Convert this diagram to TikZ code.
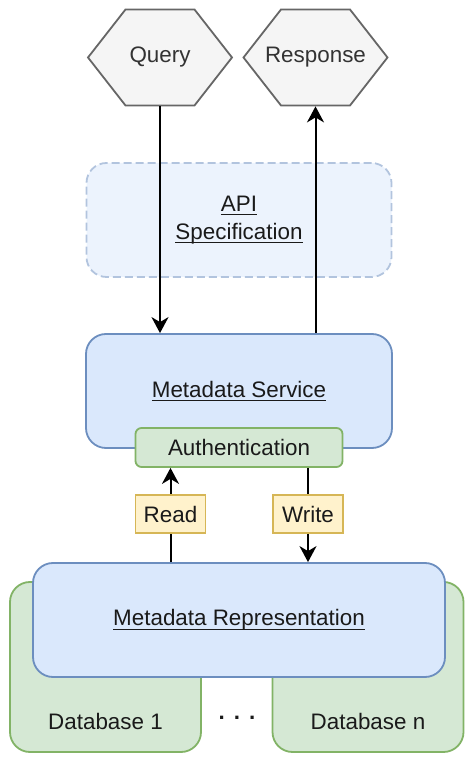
\documentclass[tikz,border=0pt]{standalone}
\usepackage{fontspec}
\setmainfont{Liberation Sans}
\usepackage{xcolor}
\usepackage{tikz}
\usetikzlibrary{positioning, shapes.symbols, arrows.meta}

\newcommand{\udl}[1]{\setbox0\hbox{#1}\rlap{\rule[-2pt]{\wd0}{0.6pt}}\box0}
\newcommand{\hexlbl}[1]{\makebox[20pt]{#1}}

\definecolor{hexfill}{HTML}{F5F5F5}
\definecolor{hexline}{HTML}{666666}
\definecolor{hextext}{HTML}{333333}
\definecolor{bluefill}{HTML}{DAE8FC}
\definecolor{blueline}{HTML}{6C8EBF}
\definecolor{apifill}{HTML}{ECF3FD}
\definecolor{apiline}{HTML}{B2C4DE}
\definecolor{greenfill}{HTML}{D5E8D4}
\definecolor{greenline}{HTML}{82B366}
\definecolor{yellowfill}{HTML}{FFF2CC}
\definecolor{yellowline}{HTML}{D6B656}
\definecolor{textdark}{HTML}{1A1A1A}

\begin{document}
\begin{tikzpicture}[on grid, font=\fontsize{11.2}{14}\selectfont, text=textdark,
    hexnode/.style={signal, signal to=west and east, signal pointer angle=104,
        draw=hexline, fill=hexfill, text=hextext, line width=0.9pt,
        minimum width=72pt, minimum height=48pt, inner sep=0pt},
    bluebox/.style={rectangle, rounded corners=10pt, draw=blueline, fill=bluefill,
        line width=0.9pt, minimum width=153pt, minimum height=57pt},
    apibox/.style={rectangle, rounded corners=10pt, draw=apiline, fill=apifill,
        dash pattern=on 4pt off 2pt, line width=0.9pt, align=center,
        minimum width=152.5pt, minimum height=57pt},
    authbox/.style={rectangle, rounded corners=3pt, draw=greenline, fill=greenfill,
        line width=0.9pt, minimum width=103.5pt, minimum height=19.5pt},
    dbbox/.style={rectangle, rounded corners=10pt, draw=greenline, fill=greenfill,
        line width=0.9pt, minimum width=95.5pt, minimum height=85pt},
    rwlabel/.style={rectangle, draw=yellowline, fill=yellowfill, line width=0.9pt,
        minimum width=35pt, minimum height=19pt, inner sep=1pt},
    arr/.style={-{Stealth[length=8pt, width=8.5pt, inset=2.5pt]}, line width=1pt, black}]

    \node[bluebox] (svc) {\udl{Metadata Service}};
    \useasboundingbox (-119.5pt,195.5pt) rectangle (117.5pt,-186pt);

    \node[apibox] (api) [above=85.5pt of svc] {\udl{API}\\\udl{Specification}};
    \node[hexnode] (query) [above left=166.75pt and 39.5pt of svc] {\hexlbl{Query}};
    \node[hexnode] (resp) [above right=166.75pt and 38.25pt of svc] {\hexlbl{Response}};

    \node[authbox] (auth) [below=28.25pt of svc] {Authentication};

    \node[dbbox] (db1) [below left=138pt and 66.75pt of svc] {};
    \node[dbbox] (dbn) [below right=138pt and 64.5pt of svc] {};
    \node (db1text) [above=15.5pt of db1.south, anchor=center] {Database 1};
    \node (dbntext) [above=15.5pt of dbn.south, anchor=center] {Database n};
    \node[bluebox, minimum width=206pt] (repr) [below=114.5pt of svc] {\udl{Metadata Representation}};
    \node (dots) [below=15.5pt of repr.south, xshift=-1pt] {\textbf{.\hspace{4.5pt}.\hspace{4.5pt}.}};

    \node[rwlabel] (rd) [below left=33.25pt and 34.25pt of auth] {Read};
    \node[rwlabel] (wr) [below right=33.25pt and 34.5pt of auth] {Write};

    \draw[arr] (query.south) -- (query.south |- svc.north);
    \draw[arr] (resp.south |- svc.north) -- (resp.south);

    \draw[line width=1pt] (rd |- repr.north) -- (rd);
    \draw[arr] (rd) -- (rd |- auth.south);
    \draw[line width=1pt] (wr |- auth.south) -- (wr);
    \draw[arr] (wr) -- (wr |- repr.north);
\end{tikzpicture}
\end{document}
